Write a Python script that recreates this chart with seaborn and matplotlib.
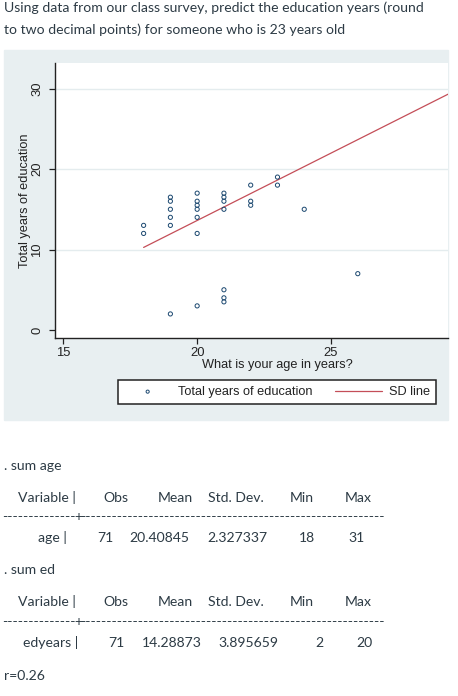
import matplotlib
matplotlib.use("Agg")
import matplotlib.pyplot as plt
from matplotlib.patches import Rectangle
import seaborn as sns
import pandas as pd

# scatter points (overlapping obs shown once)
age = [18, 18,
       19, 19, 19, 19, 19, 19,
       20, 20, 20, 20, 20, 20, 20,
       21, 21, 21, 21, 21, 21, 21,
       22, 22, 22,
       23, 23,
       24,
       26]
edyears = [13, 12,
           16.5, 16, 15, 14, 13, 2,
           17, 16, 15.5, 15, 14, 12, 3,
           17, 16.5, 16, 15, 5, 4, 3.5,
           18, 16, 15.5,
           19, 18,
           15,
           7]

# SD line endpoints (min age .. max age)
sd_x = [18, 31]
sd_y = [10.26, 32.02]

x_ticks = [15, 20, 25]
y_ticks = [0, 10, 20, 30]
grid_y = [10, 20, 30]

title_lines = ["Using data from our class survey, predict the education years (round",
               "to two decimal points) for someone who is 23 years old"]

header = ["Variable |", "Obs", "Mean", "Std. Dev.", "Min", "Max"]
age_row = ["age |", "71", "20.40845", "2.327337", "18", "31"]
ed_row = ["edyears |", "71", "14.28873", "3.895659", "2", "20"]

W, H = 458, 696
navy = "#1a476f"
red = "#c44e58"
panel_bg = "#e8eff1"
txt = "#2d3b45"
stata_font = ["Liberation Sans", "DejaVu Sans"]
page_font = ["Lato", "DejaVu Sans"]
page_size = 10.1

sns.set_theme(style="white")
plt.rcParams["font.family"] = stata_font

fig = plt.figure(figsize=(W / 100, H / 100), dpi=100)


def fx(px):
    return px / W


def fy(py):
    return 1 - py / H


# stata graph region background
fig.patches.append(Rectangle((fx(4), fy(420)), fx(448) - fx(4), fy(50) - fy(420),
                             transform=fig.transFigure, color=panel_bg, zorder=-10))

ax = fig.add_axes([fx(55), fy(338), fx(448) - fx(55), fy(63) - fy(338)])
ax.set_zorder(2)
ax.set_facecolor("white")

df = pd.DataFrame({"age": age, "edyears": edyears})
sd = pd.DataFrame({"age": sd_x, "edyears": sd_y})

for g in grid_y:
    ax.axhline(g, color="#e4ecee", lw=1, zorder=0)

sns.lineplot(data=sd, x="age", y="edyears", color=red, lw=0.9, ax=ax,
             label="SD line", errorbar=None)
sns.scatterplot(data=df, x="age", y="edyears", marker="o", s=9, color=navy,
                linewidth=0.7, ax=ax, label="Total years of education", zorder=3)
pts = ax.collections[-1]
pts.set_facecolor("none")
pts.set_edgecolor(navy)

ax.set_xlim(14.69, 29.37)
ax.set_ylim(-0.99, 33.17)
ax.set_xticks(x_ticks)
ax.set_yticks(y_ticks)
ax.set_xticklabels([str(t) for t in x_ticks])
ax.set_yticklabels([str(t) for t in y_ticks])

for s in ["top", "right"]:
    ax.spines[s].set_visible(False)
for s in ["left", "bottom"]:
    ax.spines[s].set_color("#222222")
    ax.spines[s].set_linewidth(1.0)

ax.tick_params(axis="both", direction="out", length=4, width=0.9, color="#222222",
               labelsize=9.4, labelcolor="#222222", bottom=True, left=True)
ax.tick_params(axis="x", pad=2.5)
ax.tick_params(axis="y", pad=4.5, labelrotation=90)
for lab in ax.get_yticklabels():
    lab.set_va("center")

ax.set_xlabel("What is your age in years?", fontsize=9.2, color="#222222")
ax.set_ylabel("Total years of education", fontsize=9.2, color="#222222")
ax.xaxis.set_label_coords((277 - 55) / 393, (338 - 359) / 275)
ax.yaxis.set_label_coords((31 - 55) / 393, 0.5)

handles, labels = ax.get_legend_handles_labels()
order = [labels.index("Total years of education"), labels.index("SD line")]
leg = ax.legend([handles[i] for i in order], [labels[i] for i in order],
                ncol=2, loc="center", bbox_to_anchor=(fx(277), fy(392)),
                bbox_transform=fig.transFigure, fontsize=9.2, frameon=True,
                fancybox=False, edgecolor="#222222", framealpha=1,
                borderpad=0.5, handlelength=3.7, handletextpad=0.5,
                columnspacing=1.8, borderaxespad=0, markerscale=0.75)
leg.get_frame().set_linewidth(1.1)
for t in leg.get_texts():
    t.set_color("#222222")

# page text around the graph
for i, line in enumerate(title_lines):
    fig.text(fx(4), fy(12.5 + 21 * i), line, family=page_font, fontsize=page_size,
             color=txt, ha="left", va="baseline")

fig.text(fx(4), fy(469.5), ". sum age", family=page_font, fontsize=page_size, color=txt, va="baseline")
fig.text(fx(4), fy(573.5), ". sum ed", family=page_font, fontsize=page_size, color=txt, va="baseline")
fig.text(fx(4), fy(680), "r=0.26", family=page_font, fontsize=page_size, color=txt, va="baseline")

head_right = [76, 128, 193, 264, 314, 372]
age_right = [67, 113, 189, 267, 315, 365]
ed_right = [78, 124, 202, 278, 323, 373]
for cells, rights, base in [(header, head_right, 501.5), (age_row, age_right, 542.5),
                            (header, head_right, 606), (ed_row, ed_right, 647)]:
    for c, r in zip(cells, rights):
        fig.text(fx(r), fy(base), c, family=page_font, fontsize=page_size, color=txt,
                 ha="right", va="baseline")

for base in [517.5, 622]:
    fig.text(fx(75.5), fy(base), "-" * 14, family=page_font, fontsize=page_size, color=txt,
             ha="right", va="center")
    fig.text(fx(78), fy(base), "+", family=page_font, fontsize=page_size, color=txt,
             ha="center", va="center")
    fig.text(fx(80.5), fy(base), "-" * 58, family=page_font, fontsize=page_size, color=txt,
             ha="left", va="center")

fig.savefig("out.png", dpi=100)
